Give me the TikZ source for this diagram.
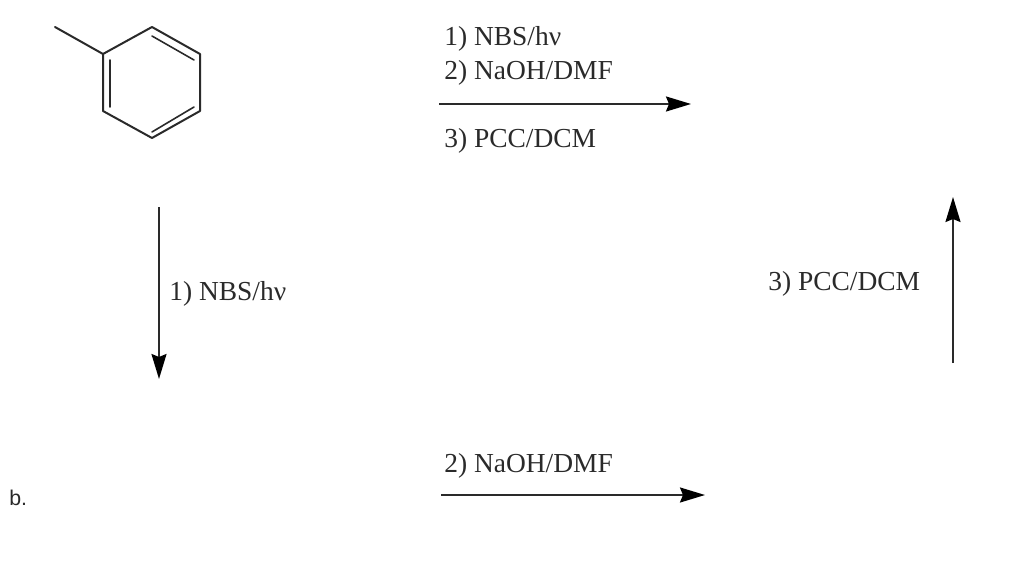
\documentclass[tikz,border=0pt]{standalone}
\usepackage{fontspec}
\setmainfont{Liberation Serif}
\newfontfamily\labelsans{Liberation Sans}
\usetikzlibrary{arrows.meta}
\definecolor{ink}{HTML}{2A2A2A}
\tikzset{
 px/.style={x=0.75pt,y=-0.75pt},
 bond/.style={draw=ink,line width=2pt*0.75,line cap=round,line join=round},
 dbl/.style={draw=ink,line width=1.6pt*0.75,line cap=round},
 rxn/.style={draw=ink,line width=2pt*0.75,-{Stealth[length=25pt*0.75,width=15pt*0.75,inset=3pt*0.75,color=black]}},
 chem/.style={font=\fontsize{20.6pt}{24pt}\selectfont,text=ink,inner sep=0pt,anchor=west},
 lab/.style={font=\labelsans\fontsize{16pt}{19pt}\selectfont,text=ink,inner sep=0pt,anchor=west}
}
\begin{document}
\begin{tikzpicture}[px]
\useasboundingbox (0,0) rectangle (1024,588);
\coordinate (m) at (55,27);
\coordinate (a) at (103,54);
\coordinate (b) at (152,27);
\coordinate (c) at (200,54);
\coordinate (d) at (200,111);
\coordinate (e) at (152,138);
\coordinate (f) at (103,111);
\coordinate (c1) at (152,36);
\coordinate (c2) at (194,60);
\coordinate (d1) at (194,107);
\coordinate (e1) at (152,132);
\coordinate (f1) at (110,107);
\coordinate (a1) at (110,60);
\draw[bond] (a)--(b)--(c)--(d)--(e)--(f)--cycle;
\draw[bond] (a)--(m);
\draw[dbl] (c1)--(c2);
\draw[dbl] (d1)--(e1);
\draw[dbl] (f1)--(a1);
\coordinate (r1s) at (439,104);
\coordinate (r1e) at (691,104);
\draw[rxn] (r1s)--(r1e);
\node[chem] (t1) at (444,39) {1) NBS/hν};
\node[chem] (t2) at (444,73) {2) NaOH/DMF};
\node[chem] (t3) at (444,141) {3) PCC/DCM};
\coordinate (r2s) at (159,207);
\coordinate (r2e) at (159,379);
\draw[rxn] (r2s)--(r2e);
\node[chem] (t4) at (169,294) {1) NBS/hν};
\coordinate (r3s) at (953,363);
\coordinate (r3e) at (953,197);
\draw[rxn] (r3s)--(r3e);
\node[chem] (t5) at (768,284) {3) PCC/DCM};
\coordinate (r4s) at (441,495);
\coordinate (r4e) at (705,495);
\draw[rxn] (r4s)--(r4e);
\node[chem] (t6) at (444,466) {2) NaOH/DMF};
\node[lab] (t7) at (9,498) {b.};
\end{tikzpicture}
\end{document}
